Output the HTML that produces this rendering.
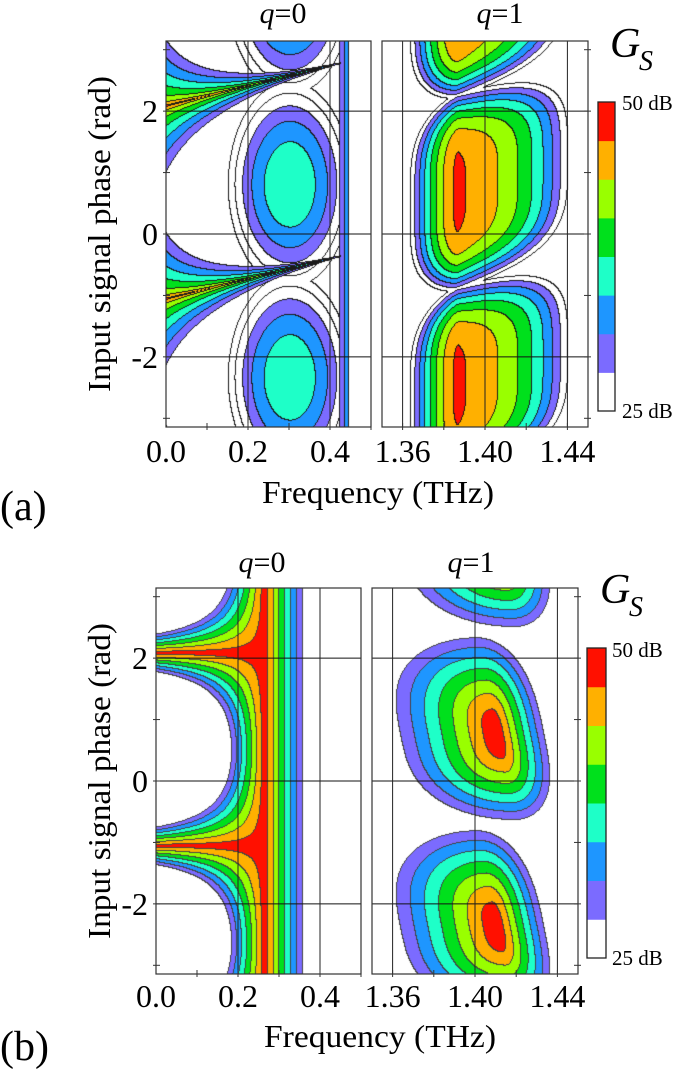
<!DOCTYPE html>
<html><head><meta charset="utf-8">
<style>
html,body{margin:0;padding:0;background:#fff;}
#page{position:relative;width:700px;height:1074px;overflow:hidden;font-family:"Liberation Serif",serif;}
canvas{position:absolute;}
svg{position:absolute;left:0;top:0;}
</style></head>
<body>
<div id="page">
<canvas id="cA0" style="left:166px;top:41px" width="205" height="386"></canvas>
<canvas id="cA1" style="left:382px;top:41px" width="206" height="386"></canvas>
<canvas id="cB0" style="left:156px;top:588px" width="205" height="386"></canvas>
<canvas id="cB1" style="left:372px;top:588px" width="206" height="386"></canvas>
<svg id="ov" width="700" height="1074"></svg>
</div>
<script>
// ---- data ----
const levels = [28.125, 31.25, 34.375, 37.5, 40.625, 43.75, 46.875];
const bandColors = ["#ffffff","#7b6bff","#1e96ff","#1effc8","#00e01c","#99ff00","#ffb000","#ff1000"];
// (a) q=0
const a0LobeCenter = [0.303, 0.80];
const a0LobeHalf = [0.115, 1.28];
const a0LobeGain = [37, 8.9];
const a0Horn = [2.08, 1.63, 1.1, 49];   // phase at f=0, slope, half width, peak dB
const a0Cutoff = [0.447, 34];
const a0Extra = [21.875, 25];
// (a) q=1
const a1Center = [1.387, 0.68];
const a1FHalf = [0.021, 0.05];
const a1PhiHalf = [1.55];
const a1Shear = [10.5];
const a1Gain = [47.5, 19.5];
const a1Extra = [25];
// (b) q=0
const b0Peak = [0.265];
const b0Widths = [0.0794, 0.093];
const b0Singular = [2.08];
const b0Gain = [48.5, 20.4];
// (b) q=1
const b1Center = [1.411, 0.73];
const b1FHalf = [0.047, 0.023];
const b1PhiHalf = [1.6, 1.37];
const b1Tilt = [-0.006];
const b1Gain = [50, 22];

const PI = Math.PI;
function wrapHalf(d){ return ((d + PI/2) % PI + PI) % PI - PI/2; }

function a0Lobes(f,p){
  let g=-99;
  for (const k of [-1,0,1]) {
    const u=(f-a0LobeCenter[0])/a0LobeHalf[0], v=(p-a0LobeCenter[1]-k*PI)/a0LobeHalf[1];
    g = Math.max(g, a0LobeGain[0]-a0LobeGain[1]*(u*u+v*v));
  }
  return g;
}
function fA0(f,p){
  if (f > a0Cutoff[0]) return 10;
  let g = a0Lobes(f,p);
  if (f < 0.47) {
    const W = a0Horn[2]/(1+f/0.1)*Math.sqrt(1-f/0.47);
    const d = wrapHalf(p-(a0Horn[0]+a0Horn[1]*f));
    g = Math.max(g, a0Horn[3]-12*Math.pow(f/0.4,2)-21*Math.sqrt(Math.abs(d)/W));
  }
  g = Math.max(g, a0Cutoff[1]-5*(a0Cutoff[0]-f)/0.02);
  return g;
}
function fA0Extra(f,p){ return f > a0Cutoff[0] ? 10 : a0Lobes(f,p); }
function fA1(f,p){
  let g=-99;
  for (const k of [-1,0,1]) {
    const du=f-a1Center[0];
    const dv=p-a1Center[1]-k*PI-a1Shear[0]*du;
    const v=dv/a1PhiHalf[0];
    let uu;
    if (du<0) uu=Math.pow(-du/a1FHalf[0],1.5);
    else { const x=du/a1FHalf[1]; uu=0.4*x+0.6*x*x*x; }
    g=Math.max(g, a1Gain[0]-a1Gain[1]*(uu+Math.pow(v,4)));
  }
  return g;
}
function fB0(f,p){
  const fc=b0Peak[0]; let t;
  if (f>=fc) t=(f-fc)/b0Widths[1];
  else { const m=Math.abs(Math.sin(p-b0Singular[0])); t=(fc-f)*m/b0Widths[0]; }
  return b0Gain[0]-b0Gain[1]*t;
}
function fB1(f,p){
  let g=-99;
  for (const k of [-1,0,1]) {
    const dv=p-b1Center[1]-k*PI;
    const v=Math.abs(dv/(dv>0?b1PhiHalf[0]:b1PhiHalf[1]));
    const du=f-(b1Center[0]+b1Tilt[0]*dv);
    const u=du/(du<0?b1FHalf[0]:b1FHalf[1]);
    g=Math.max(g, b1Gain[0]-b1Gain[1]*Math.sqrt(u*u+v*v*v));
  }
  return g;
}
function hex(c){return [parseInt(c.substr(1,2),16),parseInt(c.substr(3,2),16),parseInt(c.substr(5,2),16)];}
const rgb = bandColors.map(hex);
function render(id,fmin,fmax,field,extra,line,extraField){
  const cv=document.getElementById(id), W=cv.width, H=cv.height, ctx=cv.getContext('2d');
  const img=ctx.createImageData(W,H), idx=new Int32Array(W*H), main=new Int32Array(W*H);
  for(let j=0;j<H;j++)for(let i=0;i<W;i++){
    const f=fmin+(i+0.5)/W*(fmax-fmin), p=PI-(j+0.5)/H*2*PI, g=field(f,p);
    let m=0; for(const l of levels) if(g>=l) m++;
    const ge = extraField ? extraField(f,p) : g;
    let e=0; if(m===0) for(const l of extra) if(ge>=l) e++;
    main[j*W+i]=m; idx[j*W+i]=m*10+e;
  }
  const lc=hex(line);
  for(let j=0;j<H;j++)for(let i=0;i<W;i++){
    const k=j*W+i; let c=rgb[main[k]];
    if((i<W-1&&idx[k]!==idx[k+1])||(j<H-1&&idx[k]!==idx[k+W])) c=lc;
    img.data[k*4]=c[0];img.data[k*4+1]=c[1];img.data[k*4+2]=c[2];img.data[k*4+3]=255;
  }
  ctx.putImageData(img,0,0);
}
render('cA0',0,0.5,fA0,a0Extra,'#1a1a1a',fA0Extra);
render('cA1',1.35,1.45,fA1,a1Extra,'#1a1a1a');
render('cB0',0,0.5,fB0,[],'#444444');
render('cB1',1.35,1.45,fB1,[],'#444444');

// ---- axes overlay ----
const NS="http://www.w3.org/2000/svg", ov=document.getElementById('ov');
function el(tag,attrs,txt){const e=document.createElementNS(NS,tag);for(const k in attrs)e.setAttribute(k,attrs[k]);if(txt!==undefined)e.textContent=txt;ov.appendChild(e);return e;}
const yTicks=[2,0,-2], yMinor=[3,1,-1,-3];
const xTicksL=[0,0.2,0.4], xTicksR=[1.36,1.40,1.44];
const xLabL=["0.0","0.2","0.4"], xLabR=["1.36","1.40","1.44"];
const panels=[
 {x:166,y:41,w:205,h:386,f0:0,f1:0.5,grid:[0.2,0.4],minor:[0.1,0.3,0.5],lab:xTicksL,labT:xLabL,side:'L',name:'a-q0'},
 {x:382,y:41,w:206,h:386,f0:1.35,f1:1.45,grid:xTicksR,minor:[1.38,1.42],lab:xTicksR,labT:xLabR,side:'R',name:'a-q1'},
 {x:156,y:588,w:205,h:386,f0:0,f1:0.5,grid:[0.2,0.4],minor:[0.1,0.3,0.5],lab:xTicksL,labT:xLabL,side:'L',name:'b-q0'},
 {x:372,y:588,w:206,h:386,f0:1.35,f1:1.45,grid:xTicksR,minor:[1.38,1.42],lab:xTicksR,labT:xLabR,side:'R',name:'b-q1'}];
for(const P of panels){
  const X=f=>P.x+(f-P.f0)/(P.f1-P.f0)*P.w, Y=p=>P.y+P.h/2-p/PI*P.h/2;
  for(const p of yTicks){const e=el('line',{x1:P.x,x2:P.x+P.w,y1:Y(p),y2:Y(p),stroke:'#111','stroke-width':1});
    
    }
  for(const f of P.grid){const e=el('line',{x1:X(f),x2:X(f),y1:P.y,y2:P.y+P.h,stroke:'#222','stroke-width':1});
    
    }
  for(const f of P.grid.concat(P.minor)){const e=el('line',{x1:X(f),x2:X(f),y1:P.y+P.h-4,y2:P.y+P.h+3,stroke:'#333','stroke-width':1});
    
    }
  const ax=P.side==='L'?P.x:P.x+P.w, dir=P.side==='L'?-1:1;
  for(const p of yMinor.concat(yTicks)){const e=el('line',{x1:ax-dir*4,x2:ax+dir*3,y1:Y(p),y2:Y(p),stroke:'#333','stroke-width':1});
    
    }
  const fr=el('rect',{x:P.x,y:P.y,width:P.w,height:P.h,fill:'none',stroke:'#333','stroke-width':1.2});
  
  
  const by=P.y<300?462:1007;
  P.lab.forEach((f,i)=>{const t=el('text',{x:X(f),y:by,'font-size':32,'text-anchor':'middle'},P.labT[i]);
    
    });
  if(P.side==='L'){
    const rx=P.y<300?158:148;
    yTicks.forEach(p=>{const t=el('text',{x:rx,y:Y(p)+11,'font-size':32,'text-anchor':'end'},p<0?'-'+Math.abs(p):String(p));
      
      });
  }
}
// colorbars
const cbars=[{x:598,y:102,w:17,h:309,top:110,bot:418,lx:622,gx:610,gy:57},{x:587,y:648,w:19,h:310,top:657,bot:965,lx:612,gx:600,gy:603}];
cbars.forEach((C,ci)=>{
  const bh=C.h/bandColors.length;
  bandColors.forEach((c,i)=>{const r=el('rect',{x:C.x,y:C.y+C.h-(i+1)*bh,width:C.w,height:bh+0.5,fill:c});
    
    });
  const b=el('rect',{x:C.x,y:C.y,width:C.w,height:C.h,fill:'none',stroke:'#222','stroke-width':1.3});
  
  
  const t1=el('text',{x:C.lx,y:C.top,'font-size':21},'50 dB');
  
  
  const t2=el('text',{x:C.lx,y:C.bot,'font-size':21},'25 dB');
  
  
  const g=el('text',{x:C.gx,y:C.gy,'font-size':42,'font-style':'italic'},'G');
  
  
  const s=el('text',{x:C.gx+29,y:C.gy+13,'font-size':28,'font-style':'italic'},'S');
  
  
});
// titles & labels
const titles=[[283,23,'0','a-q0'],[500,23,'1','a-q1'],[262,572,'0','b-q0'],[471,572,'1','b-q1']];
titles.forEach(T=>{const t=el('text',{x:T[0],y:T[1],'font-size':30,'text-anchor':'middle'});
  
  
  const a=document.createElementNS(NS,'tspan');a.setAttribute('font-style','italic');a.textContent='q';t.appendChild(a);
  const b=document.createElementNS(NS,'tspan');b.textContent='='+T[2];t.appendChild(b);});
[[378,503],[380,1047]].forEach(L=>{const t=el('text',{x:L[0],y:L[1],'font-size':32,'text-anchor':'middle',textLength:232,lengthAdjust:'spacingAndGlyphs'},'Frequency (THz)');
  
  });
[[110,234],[110,781]].forEach(L=>{const t=el('text',{x:0,y:0,'font-size':32,'text-anchor':'middle',transform:`translate(${L[0]},${L[1]}) rotate(-90)`,textLength:316,lengthAdjust:'spacingAndGlyphs'},'Input signal phase (rad)');
  
  });
[[0,520,'(a)'],[0,1060,'(b)']].forEach(L=>{const t=el('text',{x:L[0],y:L[1],'font-size':42},L[2]);
  
  });
</script>
</body></html>
